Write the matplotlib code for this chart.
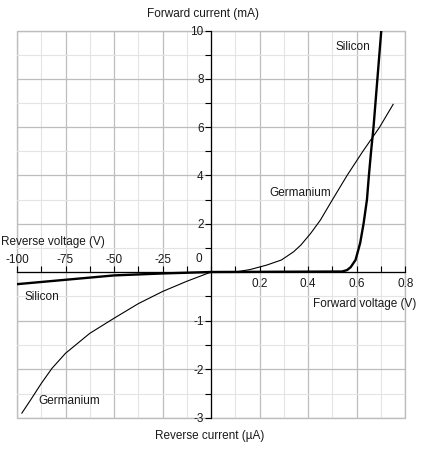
import matplotlib
matplotlib.use("Agg")
import matplotlib.pyplot as plt
import numpy as np

plt.rcParams['font.family'] = ['Liberation Sans', 'DejaVu Sans']
plt.rcParams['font.size'] = 8.5

# reverse side: voltage in V, current in uA (negative)
si_rev_v = [-100, -75, -50, -25, 0]
si_rev_i = [-0.25, -0.16, -0.07, -0.03, 0]
ge_rev_v = [-97.5, -93.5, -87.5, -82, -75, -62.5, -50, -37.5, -25, -12.5, 0]
ge_rev_i = [-2.9, -2.66, -2.29, -1.98, -1.67, -1.26, -0.95, -0.65, -0.4, -0.19, 0]

# forward side: voltage in V, current in mA
si_fwd_v = [0, 0.54, 0.56, 0.575, 0.595, 0.614, 0.628, 0.635, 0.642, 0.65, 0.659, 0.669, 0.701]
si_fwd_i = [0, 0.02, 0.08, 0.2, 0.5, 1.2, 2.0, 2.5, 3.0, 4.0, 5.0, 6.0, 10.0]
ge_fwd_v = [0, 0.1, 0.16, 0.23, 0.29, 0.34, 0.37, 0.41, 0.45, 0.5, 0.56, 0.625, 0.694, 0.75]
ge_fwd_i = [0, 0.0, 0.1, 0.29, 0.5, 0.84, 1.12, 1.6, 2.15, 3.0, 4.0, 5.0, 6.0, 6.95]

x_major = [-100, -75, -50, -25, 0, 0.2, 0.4, 0.6, 0.8]
x_labels = ['-100', '-75', '-50', '-25', '', '0.2', '0.4', '0.6', '0.8']
x_minor = [-87.5, -62.5, -37.5, -12.5, 0.1, 0.3, 0.5, 0.7]
y_major = [-3, -2, -1, 0, 2, 4, 6, 8, 10]
y_labels = ['-3', '-2', '-1', '', '2', '4', '6', '8', '10']
y_minor = [-2.5, -1.5, -0.5, 1, 3, 5, 7, 9]


# each half of an axis has its own scale
def fx(x):
    x = np.asarray(x, dtype=float)
    return np.where(x < 0, x / 100.0, x / 0.8)


def fx_inv(u):
    u = np.asarray(u, dtype=float)
    return np.where(u < 0, u * 100.0, u * 0.8)


def fy(y):
    y = np.asarray(y, dtype=float)
    return np.where(y < 0, y / 3.0 * 146.0, y / 10.0 * 241.3)


def fy_inv(v):
    v = np.asarray(v, dtype=float)
    return np.where(v < 0, v / 146.0 * 3.0, v / 241.3 * 10.0)


fig = plt.figure(figsize=(4.23, 4.53), dpi=100)
ax = fig.add_axes([17 / 423, 35 / 453, 388.3 / 423, 387.3 / 453])
ax.set_xscale('function', functions=(fx, fx_inv))
ax.set_yscale('function', functions=(fy, fy_inv))
ax.set_xlim(-100, 0.8)
ax.set_ylim(-3, 10)

txt = '#1a1a1a'
ax.plot(ge_rev_v, ge_rev_i, color='black', lw=0.8)
ax.plot(ge_fwd_v, ge_fwd_i, color='black', lw=0.8)
ax.plot(si_rev_v, si_rev_i, color='black', lw=1.7, solid_capstyle='round')
ax.plot(si_fwd_v, si_fwd_i, color='black', lw=1.7, solid_capstyle='round')

ax.set_xticks(x_major)
ax.set_xticklabels(x_labels)
ax.set_xticks(x_minor, minor=True)
ax.set_yticks(y_major)
ax.set_yticklabels(y_labels)
ax.set_yticks(y_minor, minor=True)

ax.set_axisbelow(True)
ax.grid(which='major', color='#bdbdbd', lw=0.9)
ax.grid(which='minor', color='#e4e4e4', lw=0.8)
ax.patch.set_edgecolor('#bdbdbd')
ax.patch.set_linewidth(1.0)

ax.spines['left'].set_position(('data', 0))
ax.spines['bottom'].set_position(('data', 0))
ax.spines['top'].set_position(('data', 0))
ax.spines['top'].set_color('none')
ax.spines['right'].set_visible(False)
ax.spines['left'].set_linewidth(0.9)
ax.spines['bottom'].set_linewidth(0.9)

ax.tick_params(axis='x', which='both', direction='in', length=4, width=0.8,
               bottom=True, top=False, labelbottom=True, labeltop=True,
               pad=4, labelcolor=txt)
ax.tick_params(axis='y', which='both', direction='out', length=4, width=0.8,
               left=True, right=False, pad=1.5, labelcolor=txt)

# negative voltages labelled above the axis, positive ones below
for val, tick in zip(x_major, ax.xaxis.get_major_ticks()):
    tick.label1.set_visible(val > 0)
    tick.label2.set_visible(val < 0)

ax.annotate('0', xy=(0, 0), xytext=(-12, 13), textcoords='offset pixels',
            ha='center', va='center', color=txt)

ax.text(0.586, 9.32, 'Silicon', ha='center', va='center', color=txt)
ax.text(0.367, 3.27, 'Germanium', ha='center', va='center', color=txt)
ax.text(-87.4, -0.51, 'Silicon', ha='center', va='center', color=txt)
ax.text(-72.9, -2.65, 'Germanium', ha='center', va='center', color=txt)

fig.text(203 / 423, 1 - 14 / 453, 'Forward current (mA)', ha='center', va='center', color=txt)
fig.text(210 / 423, 1 - 436 / 453, 'Reverse current (µA)', ha='center', va='center', color=txt)
fig.text(1 / 423, 1 - 242 / 453, 'Reverse voltage (V)', ha='left', va='center', color=txt)
fig.text(416 / 423, 1 - 304 / 453, 'Forward voltage (V)', ha='right', va='center', color=txt)

fig.savefig('out.png', dpi=100)
